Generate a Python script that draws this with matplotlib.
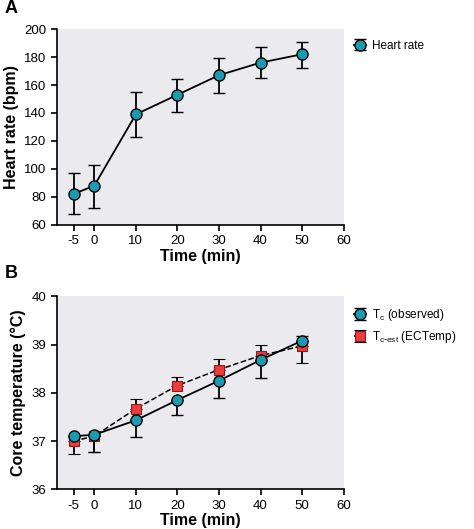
import numpy as np
import matplotlib.pyplot as plt

plt.rcParams['font.family'] = 'Liberation Sans'
plt.rcParams['font.size'] = 9
plt.rcParams['axes.unicode_minus'] = False

time = [-5, 0, 10, 20, 30, 40, 50]
hr = [82, 88, 139, 153, 167, 176, 182]
hr_lo = [68, 72, 123, 141, 154, 165, 172]
hr_hi = [97, 103, 155, 164, 179, 187, 191]

tc_obs = [37.10, 37.13, 37.43, 37.85, 38.25, 38.68, 39.08]
tc_obs_lo = [37.10, 36.78, 37.08, 37.53, 37.90, 38.30, 39.08]
tc_obs_hi = [37.10, 37.13, 37.43, 37.85, 38.25, 38.68, 39.18]
tc_est = [37.00, 37.10, 37.67, 38.15, 38.48, 38.77, 38.97]
tc_est_lo = [36.73, 36.78, 37.67, 38.15, 38.48, 38.77, 38.62]
tc_est_hi = [37.00, 37.10, 37.88, 38.33, 38.69, 38.98, 38.97]

teal = '#1b9bb0'
red = '#ee3b3b'
bg = '#ebebef'

fig = plt.figure(figsize=(4.74, 5.29), dpi=100)
axA = fig.add_axes([0.12, 0.575, 0.605, 0.37])
axB = fig.add_axes([0.12, 0.075, 0.605, 0.365])

def style(ax):
    ax.set_facecolor(bg)
    for s in ['top', 'right']:
        ax.spines[s].set_visible(False)
    for s in ['left', 'bottom']:
        ax.spines[s].set_linewidth(1.2)
    ax.tick_params(width=1.2, length=4, labelsize=9.5)
    ax.set_xlim(-9, 60)
    ax.set_xticks([-5, 0, 10, 20, 30, 40, 50, 60])
    ax.set_xlabel('Time (min)', fontsize=11.5, fontweight='bold', labelpad=1)

def err(v, lo, hi):
    return [np.array(v) - np.array(lo), np.array(hi) - np.array(v)]

axA.errorbar(time, hr, yerr=err(hr, hr_lo, hr_hi), color='black', lw=1.3,
             capsize=4, capthick=1.3, elinewidth=1.3, marker='o', ms=8,
             mfc=teal, mec='black', mew=1, label='Heart rate')
style(axA)
axA.set_ylim(60, 200)
axA.set_yticks(range(60, 201, 20))
axA.set_ylabel('Heart rate (bpm)', fontsize=11.5, fontweight='bold')
axA.legend(loc='upper left', bbox_to_anchor=(1.0, 1.0), frameon=False,
           fontsize=8.5, handlelength=1.0, handletextpad=0.5)

axB.errorbar(time, tc_est, yerr=err(tc_est, tc_est_lo, tc_est_hi), color='black',
             lw=1.1, ls='--', capsize=4, capthick=1.3, elinewidth=1.3, marker='s',
             ms=7, mfc=red, mec='#8a1c1c', mew=0.8, label=r'T$_{\mathregular{c\text{-}est}}$ (ECTemp)')
axB.errorbar(time, tc_obs, yerr=err(tc_obs, tc_obs_lo, tc_obs_hi), color='black',
             lw=1.3, capsize=4, capthick=1.3, elinewidth=1.3, marker='o', ms=8,
             mfc=teal, mec='black', mew=1, label=r'T$_{\mathregular{c}}$ (observed)')
style(axB)
axB.set_ylim(36, 40)
axB.set_yticks(range(36, 41))
axB.set_ylabel('Core temperature (°C)', fontsize=11.5, fontweight='bold')
h, l = axB.get_legend_handles_labels()
axB.legend(h[::-1], l[::-1], loc='upper left', bbox_to_anchor=(1.0, 1.0),
           frameon=False, fontsize=8.5, handlelength=1.0, handletextpad=0.5)

fig.text(0.01, 0.975, 'A', fontsize=13, fontweight='bold')
fig.text(0.01, 0.475, 'B', fontsize=13, fontweight='bold')

fig.savefig('out.png', dpi=100)
